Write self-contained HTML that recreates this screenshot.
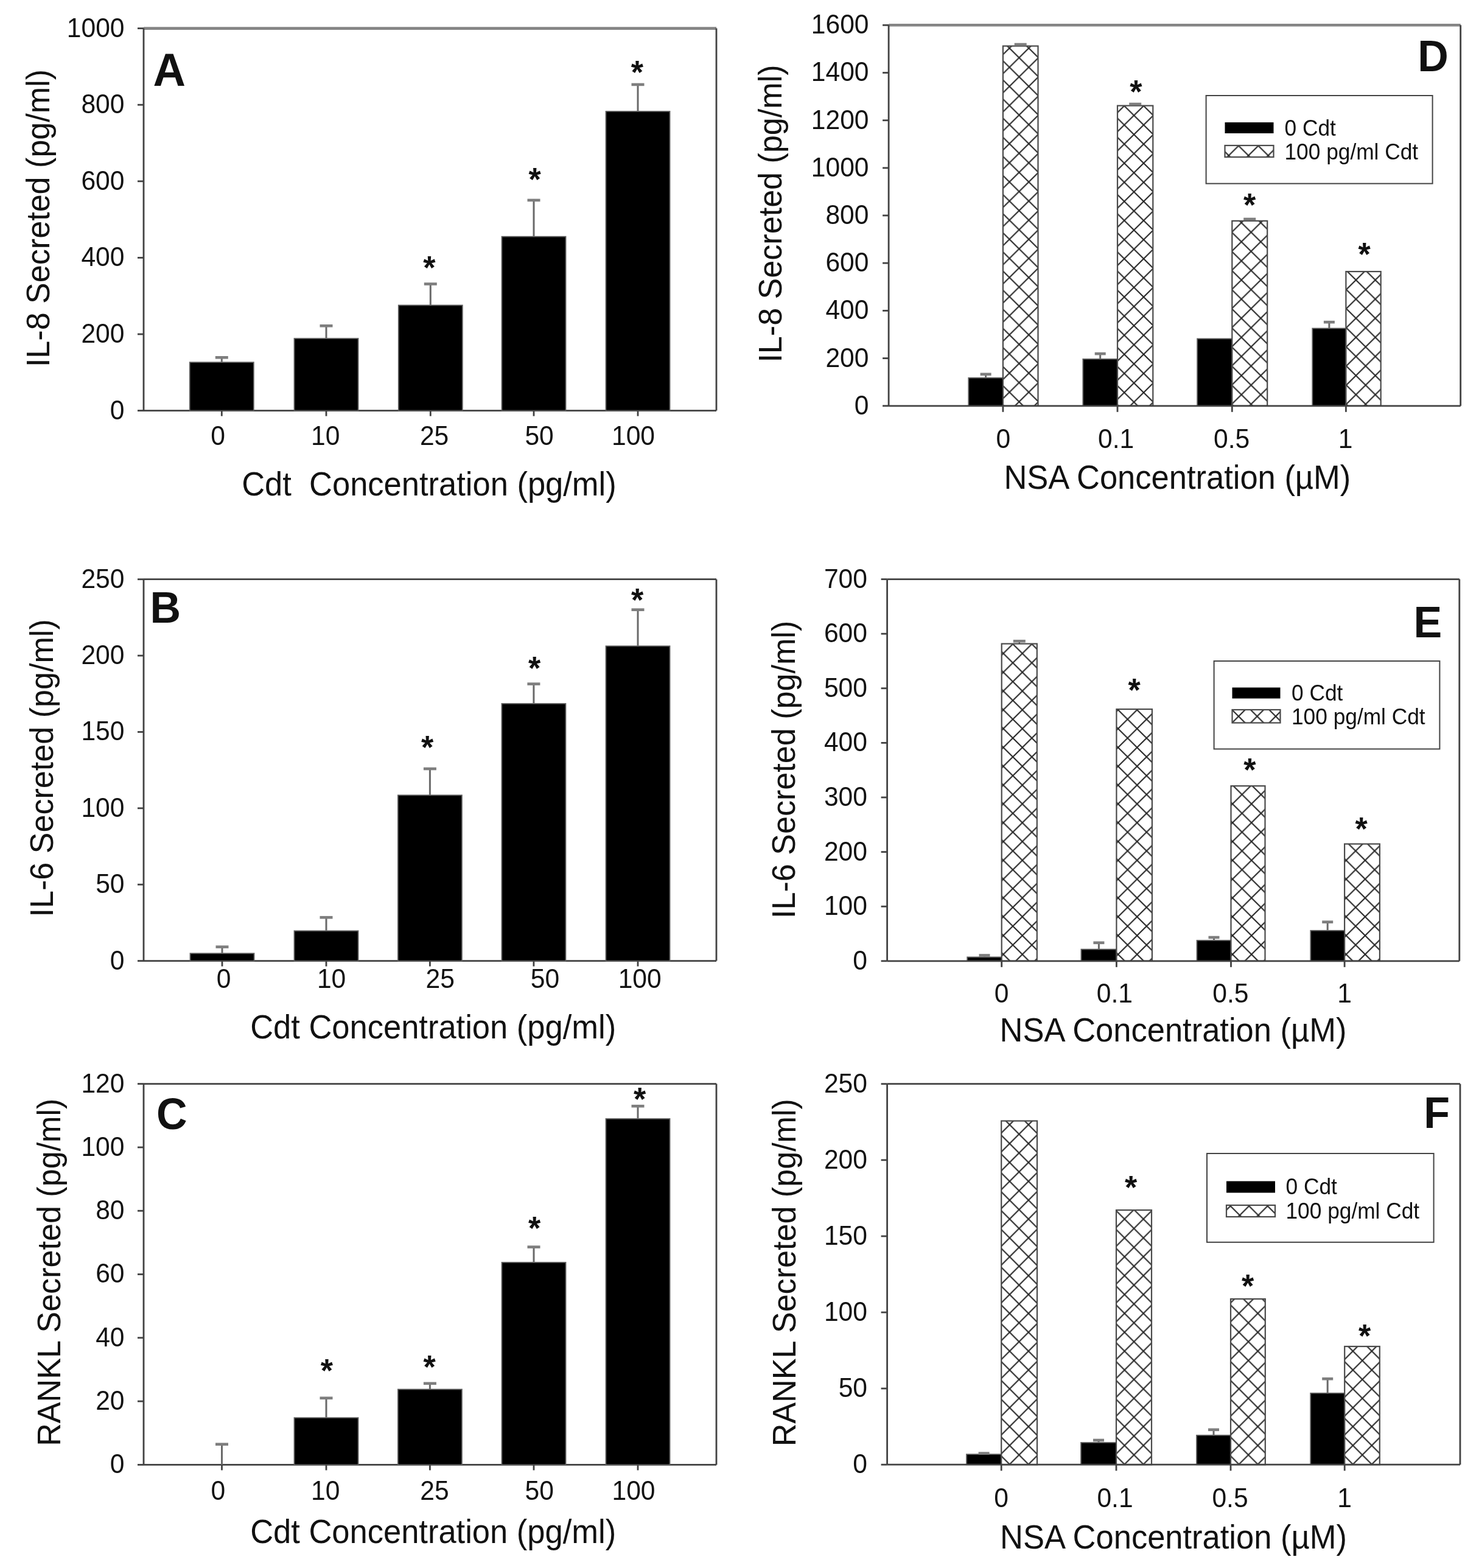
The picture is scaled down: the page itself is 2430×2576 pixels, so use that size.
<!DOCTYPE html>
<html><head><meta charset="utf-8"><title>Cdt / NSA cytokine secretion</title>
<style>html,body{margin:0;padding:0;background:#fff;}svg{display:block;}text{font-family:'Liberation Sans', Arial, Helvetica, sans-serif;}</style>
</head><body>
<svg width="2430" height="2576" viewBox="0 0 2430 2576" font-family="'Liberation Sans', Arial, Helvetica, sans-serif" fill="#111"><defs><pattern id="h1" patternUnits="userSpaceOnUse" x="1626.70" y="47.70" width="31.8" height="31.4"><path d="M-7.95,-7.85L39.75,39.25M39.75,-7.85L-7.95,39.25" stroke="#262626" stroke-width="2.1" fill="none"/></pattern><pattern id="h2" patternUnits="userSpaceOnUse" x="1815.40" y="142.50" width="31.8" height="31.4"><path d="M-7.95,-7.85L39.75,39.25M39.75,-7.85L-7.95,39.25" stroke="#262626" stroke-width="2.1" fill="none"/></pattern><pattern id="h3" patternUnits="userSpaceOnUse" x="2007.80" y="334.40" width="31.8" height="31.4"><path d="M-7.95,-7.85L39.75,39.25M39.75,-7.85L-7.95,39.25" stroke="#262626" stroke-width="2.1" fill="none"/></pattern><pattern id="h4" patternUnits="userSpaceOnUse" x="2196.00" y="428.60" width="31.8" height="31.4"><path d="M-7.95,-7.85L39.75,39.25M39.75,-7.85L-7.95,39.25" stroke="#262626" stroke-width="2.1" fill="none"/></pattern><pattern id="h5" patternUnits="userSpaceOnUse" x="1986.40" y="223.50" width="32.4" height="32"><path d="M-8.10,-8.00L40.50,40.00M40.50,-8.00L-8.10,40.00" stroke="#262626" stroke-width="2.1" fill="none"/></pattern><pattern id="h6" patternUnits="userSpaceOnUse" x="1617.30" y="1042.60" width="31.2" height="30.9"><path d="M-7.80,-7.72L39.00,38.62M39.00,-7.72L-7.80,38.62" stroke="#262626" stroke-width="2.1" fill="none"/></pattern><pattern id="h7" patternUnits="userSpaceOnUse" x="1805.80" y="1135.30" width="31.2" height="30.9"><path d="M-7.80,-7.72L39.00,38.62M39.00,-7.72L-7.80,38.62" stroke="#262626" stroke-width="2.1" fill="none"/></pattern><pattern id="h8" patternUnits="userSpaceOnUse" x="1993.80" y="1289.80" width="31.2" height="30.9"><path d="M-7.80,-7.72L39.00,38.62M39.00,-7.72L-7.80,38.62" stroke="#262626" stroke-width="2.1" fill="none"/></pattern><pattern id="h9" patternUnits="userSpaceOnUse" x="2180.50" y="1382.50" width="31.2" height="30.9"><path d="M-7.80,-7.72L39.00,38.62M39.00,-7.72L-7.80,38.62" stroke="#262626" stroke-width="2.1" fill="none"/></pattern><pattern id="h10" patternUnits="userSpaceOnUse" x="2004.50" y="1146.30" width="30.5" height="30.5"><path d="M-7.62,-7.62L38.12,38.12M38.12,-7.62L-7.62,38.12" stroke="#262626" stroke-width="2.1" fill="none"/></pattern><pattern id="h11" patternUnits="userSpaceOnUse" x="1627.80" y="1816.70" width="31.0" height="31.0"><path d="M-7.75,-7.75L38.75,38.75M38.75,-7.75L-7.75,38.75" stroke="#262626" stroke-width="2.1" fill="none"/></pattern><pattern id="h12" patternUnits="userSpaceOnUse" x="1816.60" y="1971.70" width="31.0" height="31.0"><path d="M-7.75,-7.75L38.75,38.75M38.75,-7.75L-7.75,38.75" stroke="#262626" stroke-width="2.1" fill="none"/></pattern><pattern id="h13" patternUnits="userSpaceOnUse" x="2004.60" y="2126.70" width="31.0" height="31.0"><path d="M-7.75,-7.75L38.75,38.75M38.75,-7.75L-7.75,38.75" stroke="#262626" stroke-width="2.1" fill="none"/></pattern><pattern id="h14" patternUnits="userSpaceOnUse" x="2191.80" y="2188.70" width="31.0" height="31.0"><path d="M-7.75,-7.75L38.75,38.75M38.75,-7.75L-7.75,38.75" stroke="#262626" stroke-width="2.1" fill="none"/></pattern><pattern id="h15" patternUnits="userSpaceOnUse" x="2006.40" y="1966.00" width="30.5" height="30.5"><path d="M-7.62,-7.62L38.12,38.12M38.12,-7.62L-7.62,38.12" stroke="#262626" stroke-width="2.1" fill="none"/></pattern></defs><rect width="2430" height="2576" fill="#fff"/><line x1="236.0" y1="46.6" x2="1177.0" y2="46.6" stroke="#858585" stroke-width="4.6"/>
<line x1="236.0" y1="674.6" x2="1177.0" y2="674.6" stroke="#424242" stroke-width="2.8"/>
<line x1="236.0" y1="46.6" x2="236.0" y2="674.6" stroke="#424242" stroke-width="2.8"/>
<line x1="1177.0" y1="46.6" x2="1177.0" y2="674.6" stroke="#424242" stroke-width="2.8"/>
<line x1="226.0" y1="674.6" x2="236.0" y2="674.6" stroke="#424242" stroke-width="2.8"/>
<text transform="translate(204.5,688.5) scale(1.0,1.06)" font-size="42.6" text-anchor="end">0</text>
<line x1="226.0" y1="549.0" x2="236.0" y2="549.0" stroke="#424242" stroke-width="2.8"/>
<text transform="translate(204.5,562.9) scale(1.0,1.06)" font-size="42.6" text-anchor="end">200</text>
<line x1="226.0" y1="423.4" x2="236.0" y2="423.4" stroke="#424242" stroke-width="2.8"/>
<text transform="translate(204.5,437.3) scale(1.0,1.06)" font-size="42.6" text-anchor="end">400</text>
<line x1="226.0" y1="297.8" x2="236.0" y2="297.8" stroke="#424242" stroke-width="2.8"/>
<text transform="translate(204.5,311.7) scale(1.0,1.06)" font-size="42.6" text-anchor="end">600</text>
<line x1="226.0" y1="172.2" x2="236.0" y2="172.2" stroke="#424242" stroke-width="2.8"/>
<text transform="translate(204.5,186.1) scale(1.0,1.06)" font-size="42.6" text-anchor="end">800</text>
<line x1="226.0" y1="46.6" x2="236.0" y2="46.6" stroke="#424242" stroke-width="2.8"/>
<text transform="translate(204.5,60.5) scale(1.0,1.06)" font-size="42.6" text-anchor="end">1000</text>
<rect x="311.8" y="595.2" width="105.0" height="79.4" fill="#000" stroke="#5e5e5e" stroke-width="1.8"/>
<line x1="364.3" y1="595.2" x2="364.3" y2="587.3" stroke="#6a6a6a" stroke-width="3.0"/>
<line x1="353.8" y1="587.3" x2="374.8" y2="587.3" stroke="#7e7e7e" stroke-width="4.6"/>
<line x1="364.3" y1="674.6" x2="364.3" y2="683.6" stroke="#424242" stroke-width="2.8"/>
<text transform="translate(358.0,730.5) scale(1.0,1.06)" font-size="42.6" text-anchor="middle">0</text>
<rect x="483.5" y="556.1" width="105.0" height="118.5" fill="#000" stroke="#5e5e5e" stroke-width="1.8"/>
<line x1="536.0" y1="556.1" x2="536.0" y2="535.3" stroke="#6a6a6a" stroke-width="3.0"/>
<line x1="525.5" y1="535.3" x2="546.5" y2="535.3" stroke="#7e7e7e" stroke-width="4.6"/>
<line x1="536.0" y1="674.6" x2="536.0" y2="683.6" stroke="#424242" stroke-width="2.8"/>
<text transform="translate(534.7,730.5) scale(1.0,1.06)" font-size="42.6" text-anchor="middle">10</text>
<rect x="654.8" y="501.5" width="105.0" height="173.1" fill="#000" stroke="#5e5e5e" stroke-width="1.8"/>
<line x1="707.3" y1="501.5" x2="707.3" y2="466.5" stroke="#6a6a6a" stroke-width="3.0"/>
<line x1="696.8" y1="466.5" x2="717.8" y2="466.5" stroke="#7e7e7e" stroke-width="4.6"/>
<line x1="707.3" y1="674.6" x2="707.3" y2="683.6" stroke="#424242" stroke-width="2.8"/>
<text transform="translate(713.6,730.5) scale(1.0,1.06)" font-size="42.6" text-anchor="middle">25</text>
<text transform="translate(705.3,457.6) scale(1.0,1.04)" font-size="52" text-anchor="middle" font-weight="bold">*</text>
<rect x="824.5" y="388.7" width="105.0" height="285.9" fill="#000" stroke="#5e5e5e" stroke-width="1.8"/>
<line x1="877.0" y1="388.7" x2="877.0" y2="328.9" stroke="#6a6a6a" stroke-width="3.0"/>
<line x1="866.5" y1="328.9" x2="887.5" y2="328.9" stroke="#7e7e7e" stroke-width="4.6"/>
<line x1="877.0" y1="674.6" x2="877.0" y2="683.6" stroke="#424242" stroke-width="2.8"/>
<text transform="translate(886.1,730.5) scale(1.0,1.06)" font-size="42.6" text-anchor="middle">50</text>
<text transform="translate(878.7,312.9) scale(1.0,1.04)" font-size="52" text-anchor="middle" font-weight="bold">*</text>
<rect x="995.5" y="183.0" width="105.0" height="491.6" fill="#000" stroke="#5e5e5e" stroke-width="1.8"/>
<line x1="1048.0" y1="183.0" x2="1048.0" y2="138.9" stroke="#6a6a6a" stroke-width="3.0"/>
<line x1="1037.5" y1="138.9" x2="1058.5" y2="138.9" stroke="#7e7e7e" stroke-width="4.6"/>
<line x1="1048.0" y1="674.6" x2="1048.0" y2="683.6" stroke="#424242" stroke-width="2.8"/>
<text transform="translate(1040.5,730.5) scale(1.0,1.06)" font-size="42.6" text-anchor="middle">100</text>
<text transform="translate(1046.8,137.3) scale(1.0,1.04)" font-size="52" text-anchor="middle" font-weight="bold">*</text>
<text transform="translate(397.2,814.0) scale(1.0,1.04)" font-size="52.5" text-anchor="start" xml:space="preserve">Cdt  Concentration (pg/ml)</text>
<text transform="translate(81.0,358.5) rotate(-90) scale(1,1.04)" x="0" y="0" font-size="52.1" text-anchor="middle">IL-8 Secreted (pg/ml)</text>
<text transform="translate(251.6,141.3) scale(1.0,1.02)" font-size="74" text-anchor="start" font-weight="bold">A</text>
<line x1="236.0" y1="951.7" x2="1177.0" y2="951.7" stroke="#424242" stroke-width="2.8"/>
<line x1="236.0" y1="1578.6" x2="1177.0" y2="1578.6" stroke="#424242" stroke-width="2.8"/>
<line x1="236.0" y1="951.7" x2="236.0" y2="1578.6" stroke="#424242" stroke-width="2.8"/>
<line x1="1177.0" y1="951.7" x2="1177.0" y2="1578.6" stroke="#424242" stroke-width="2.8"/>
<line x1="226.0" y1="1578.6" x2="236.0" y2="1578.6" stroke="#424242" stroke-width="2.8"/>
<text transform="translate(204.5,1592.5) scale(1.0,1.06)" font-size="42.6" text-anchor="end">0</text>
<line x1="226.0" y1="1453.2" x2="236.0" y2="1453.2" stroke="#424242" stroke-width="2.8"/>
<text transform="translate(204.5,1467.1) scale(1.0,1.06)" font-size="42.6" text-anchor="end">50</text>
<line x1="226.0" y1="1327.8" x2="236.0" y2="1327.8" stroke="#424242" stroke-width="2.8"/>
<text transform="translate(204.5,1341.7) scale(1.0,1.06)" font-size="42.6" text-anchor="end">100</text>
<line x1="226.0" y1="1202.5" x2="236.0" y2="1202.5" stroke="#424242" stroke-width="2.8"/>
<text transform="translate(204.5,1216.4) scale(1.0,1.06)" font-size="42.6" text-anchor="end">150</text>
<line x1="226.0" y1="1077.1" x2="236.0" y2="1077.1" stroke="#424242" stroke-width="2.8"/>
<text transform="translate(204.5,1091.0) scale(1.0,1.06)" font-size="42.6" text-anchor="end">200</text>
<line x1="226.0" y1="951.7" x2="236.0" y2="951.7" stroke="#424242" stroke-width="2.8"/>
<text transform="translate(204.5,965.6) scale(1.0,1.06)" font-size="42.6" text-anchor="end">250</text>
<rect x="312.5" y="1566.3" width="105.0" height="12.3" fill="#000" stroke="#5e5e5e" stroke-width="1.8"/>
<line x1="365.0" y1="1566.3" x2="365.0" y2="1555.6" stroke="#6a6a6a" stroke-width="3.0"/>
<line x1="354.5" y1="1555.6" x2="375.5" y2="1555.6" stroke="#7e7e7e" stroke-width="4.6"/>
<line x1="365.0" y1="1578.6" x2="365.0" y2="1587.6" stroke="#424242" stroke-width="2.8"/>
<text transform="translate(367.7,1622.7) scale(1.0,1.06)" font-size="42.6" text-anchor="middle">0</text>
<rect x="483.5" y="1529.3" width="105.0" height="49.3" fill="#000" stroke="#5e5e5e" stroke-width="1.8"/>
<line x1="536.0" y1="1529.3" x2="536.0" y2="1507.2" stroke="#6a6a6a" stroke-width="3.0"/>
<line x1="525.5" y1="1507.2" x2="546.5" y2="1507.2" stroke="#7e7e7e" stroke-width="4.6"/>
<line x1="536.0" y1="1578.6" x2="536.0" y2="1587.6" stroke="#424242" stroke-width="2.8"/>
<text transform="translate(544.6,1622.7) scale(1.0,1.06)" font-size="42.6" text-anchor="middle">10</text>
<rect x="653.9" y="1306.4" width="105.0" height="272.2" fill="#000" stroke="#5e5e5e" stroke-width="1.8"/>
<line x1="706.4" y1="1306.4" x2="706.4" y2="1263.0" stroke="#6a6a6a" stroke-width="3.0"/>
<line x1="695.9" y1="1263.0" x2="716.9" y2="1263.0" stroke="#7e7e7e" stroke-width="4.6"/>
<line x1="706.4" y1="1578.6" x2="706.4" y2="1587.6" stroke="#424242" stroke-width="2.8"/>
<text transform="translate(723.3,1622.7) scale(1.0,1.06)" font-size="42.6" text-anchor="middle">25</text>
<text transform="translate(702.0,1245.6) scale(1.0,1.04)" font-size="52" text-anchor="middle" font-weight="bold">*</text>
<rect x="824.4" y="1156.0" width="105.0" height="422.6" fill="#000" stroke="#5e5e5e" stroke-width="1.8"/>
<line x1="876.9" y1="1156.0" x2="876.9" y2="1123.6" stroke="#6a6a6a" stroke-width="3.0"/>
<line x1="866.4" y1="1123.6" x2="887.4" y2="1123.6" stroke="#7e7e7e" stroke-width="4.6"/>
<line x1="876.9" y1="1578.6" x2="876.9" y2="1587.6" stroke="#424242" stroke-width="2.8"/>
<text transform="translate(895.5,1622.7) scale(1.0,1.06)" font-size="42.6" text-anchor="middle">50</text>
<text transform="translate(878.0,1115.6) scale(1.0,1.04)" font-size="52" text-anchor="middle" font-weight="bold">*</text>
<rect x="995.5" y="1061.4" width="105.0" height="517.2" fill="#000" stroke="#5e5e5e" stroke-width="1.8"/>
<line x1="1048.0" y1="1061.4" x2="1048.0" y2="1001.7" stroke="#6a6a6a" stroke-width="3.0"/>
<line x1="1037.5" y1="1001.7" x2="1058.5" y2="1001.7" stroke="#7e7e7e" stroke-width="4.6"/>
<line x1="1048.0" y1="1578.6" x2="1048.0" y2="1587.6" stroke="#424242" stroke-width="2.8"/>
<text transform="translate(1051.2,1622.7) scale(1.0,1.06)" font-size="42.6" text-anchor="middle">100</text>
<text transform="translate(1047.2,1003.6) scale(1.0,1.04)" font-size="52" text-anchor="middle" font-weight="bold">*</text>
<text transform="translate(411.2,1706.0) scale(1.0,1.04)" font-size="52.5" text-anchor="start" xml:space="preserve">Cdt Concentration (pg/ml)</text>
<text transform="translate(87.3,1261.9) rotate(-90) scale(1,1.04)" x="0" y="0" font-size="52.1" text-anchor="middle">IL-6 Secreted (pg/ml)</text>
<text transform="translate(246.5,1022.9) scale(1.0,1.03)" font-size="70" text-anchor="start" font-weight="bold">B</text>
<line x1="236.0" y1="1780.6" x2="1177.0" y2="1780.6" stroke="#424242" stroke-width="2.8"/>
<line x1="236.0" y1="2406.4" x2="1177.0" y2="2406.4" stroke="#424242" stroke-width="2.8"/>
<line x1="236.0" y1="1780.6" x2="236.0" y2="2406.4" stroke="#424242" stroke-width="2.8"/>
<line x1="1177.0" y1="1780.6" x2="1177.0" y2="2406.4" stroke="#424242" stroke-width="2.8"/>
<line x1="226.0" y1="2406.4" x2="236.0" y2="2406.4" stroke="#424242" stroke-width="2.8"/>
<text transform="translate(204.5,2420.3) scale(1.0,1.06)" font-size="42.6" text-anchor="end">0</text>
<line x1="226.0" y1="2302.1" x2="236.0" y2="2302.1" stroke="#424242" stroke-width="2.8"/>
<text transform="translate(204.5,2316.0) scale(1.0,1.06)" font-size="42.6" text-anchor="end">20</text>
<line x1="226.0" y1="2197.8" x2="236.0" y2="2197.8" stroke="#424242" stroke-width="2.8"/>
<text transform="translate(204.5,2211.7) scale(1.0,1.06)" font-size="42.6" text-anchor="end">40</text>
<line x1="226.0" y1="2093.5" x2="236.0" y2="2093.5" stroke="#424242" stroke-width="2.8"/>
<text transform="translate(204.5,2107.4) scale(1.0,1.06)" font-size="42.6" text-anchor="end">60</text>
<line x1="226.0" y1="1989.2" x2="236.0" y2="1989.2" stroke="#424242" stroke-width="2.8"/>
<text transform="translate(204.5,2003.1) scale(1.0,1.06)" font-size="42.6" text-anchor="end">80</text>
<line x1="226.0" y1="1884.9" x2="236.0" y2="1884.9" stroke="#424242" stroke-width="2.8"/>
<text transform="translate(204.5,1898.8) scale(1.0,1.06)" font-size="42.6" text-anchor="end">100</text>
<line x1="226.0" y1="1780.6" x2="236.0" y2="1780.6" stroke="#424242" stroke-width="2.8"/>
<text transform="translate(204.5,1794.5) scale(1.0,1.06)" font-size="42.6" text-anchor="end">120</text>
<line x1="364.5" y1="2406.4" x2="364.5" y2="2372.7" stroke="#6a6a6a" stroke-width="3.0"/>
<line x1="354.0" y1="2372.7" x2="375.0" y2="2372.7" stroke="#7e7e7e" stroke-width="4.6"/>
<line x1="364.5" y1="2406.4" x2="364.5" y2="2415.4" stroke="#424242" stroke-width="2.8"/>
<text transform="translate(358.4,2463.5) scale(1.0,1.06)" font-size="42.6" text-anchor="middle">0</text>
<rect x="483.5" y="2329.2" width="105.0" height="77.2" fill="#000" stroke="#5e5e5e" stroke-width="1.8"/>
<line x1="536.0" y1="2329.2" x2="536.0" y2="2296.8" stroke="#6a6a6a" stroke-width="3.0"/>
<line x1="525.5" y1="2296.8" x2="546.5" y2="2296.8" stroke="#7e7e7e" stroke-width="4.6"/>
<line x1="536.0" y1="2406.4" x2="536.0" y2="2415.4" stroke="#424242" stroke-width="2.8"/>
<text transform="translate(534.7,2463.5) scale(1.0,1.06)" font-size="42.6" text-anchor="middle">10</text>
<text transform="translate(536.8,2270.0) scale(1.0,1.04)" font-size="52" text-anchor="middle" font-weight="bold">*</text>
<rect x="653.9" y="2282.5" width="105.0" height="123.9" fill="#000" stroke="#5e5e5e" stroke-width="1.8"/>
<line x1="706.4" y1="2282.5" x2="706.4" y2="2272.8" stroke="#6a6a6a" stroke-width="3.0"/>
<line x1="695.9" y1="2272.8" x2="716.9" y2="2272.8" stroke="#7e7e7e" stroke-width="4.6"/>
<line x1="706.4" y1="2406.4" x2="706.4" y2="2415.4" stroke="#424242" stroke-width="2.8"/>
<text transform="translate(714.0,2463.5) scale(1.0,1.06)" font-size="42.6" text-anchor="middle">25</text>
<text transform="translate(705.6,2263.6) scale(1.0,1.04)" font-size="52" text-anchor="middle" font-weight="bold">*</text>
<rect x="824.5" y="2074.0" width="105.0" height="332.4" fill="#000" stroke="#5e5e5e" stroke-width="1.8"/>
<line x1="877.0" y1="2074.0" x2="877.0" y2="2048.6" stroke="#6a6a6a" stroke-width="3.0"/>
<line x1="866.5" y1="2048.6" x2="887.5" y2="2048.6" stroke="#7e7e7e" stroke-width="4.6"/>
<line x1="877.0" y1="2406.4" x2="877.0" y2="2415.4" stroke="#424242" stroke-width="2.8"/>
<text transform="translate(886.2,2463.5) scale(1.0,1.06)" font-size="42.6" text-anchor="middle">50</text>
<text transform="translate(878.0,2035.6) scale(1.0,1.04)" font-size="52" text-anchor="middle" font-weight="bold">*</text>
<rect x="995.5" y="1838.0" width="105.0" height="568.4" fill="#000" stroke="#5e5e5e" stroke-width="1.8"/>
<line x1="1048.0" y1="1838.0" x2="1048.0" y2="1817.2" stroke="#6a6a6a" stroke-width="3.0"/>
<line x1="1037.5" y1="1817.2" x2="1058.5" y2="1817.2" stroke="#7e7e7e" stroke-width="4.6"/>
<line x1="1048.0" y1="2406.4" x2="1048.0" y2="2415.4" stroke="#424242" stroke-width="2.8"/>
<text transform="translate(1041.0,2463.5) scale(1.0,1.06)" font-size="42.6" text-anchor="middle">100</text>
<text transform="translate(1051.0,1823.6) scale(1.0,1.04)" font-size="52" text-anchor="middle" font-weight="bold">*</text>
<text transform="translate(411.2,2535.0) scale(1.0,1.04)" font-size="52.5" text-anchor="start" xml:space="preserve">Cdt Concentration (pg/ml)</text>
<text transform="translate(98.5,2090.2) rotate(-90) scale(1,1.04)" x="0" y="0" font-size="52.1" text-anchor="middle">RANKL Secreted (pg/ml)</text>
<text transform="translate(257.1,1855.3) scale(1.0,1.03)" font-size="70" text-anchor="start" font-weight="bold">C</text>
<rect x="1591.3" y="620.8" width="56.6" height="46.0" fill="#000" stroke="#5e5e5e" stroke-width="1.8"/>
<line x1="1619.6" y1="620.8" x2="1619.6" y2="614.8" stroke="#6a6a6a" stroke-width="3.0"/>
<line x1="1610.6" y1="614.8" x2="1628.6" y2="614.8" stroke="#7e7e7e" stroke-width="4.6"/>
<rect x="1647.9" y="75.6" width="57.6" height="591.2" fill="#fff"/>
<rect x="1647.9" y="75.6" width="57.6" height="591.2" fill="url(#h1)" stroke="#4a4a4a" stroke-width="2.2"/>
<line x1="1676.7" y1="75.6" x2="1676.7" y2="73.0" stroke="#444" stroke-width="2"/>
<line x1="1666.7" y1="73.0" x2="1686.7" y2="73.0" stroke="#7e7e7e" stroke-width="4.6"/>
<rect x="1779.3" y="589.9" width="56.7" height="76.9" fill="#000" stroke="#5e5e5e" stroke-width="1.8"/>
<line x1="1807.7" y1="589.9" x2="1807.7" y2="581.1" stroke="#6a6a6a" stroke-width="3.0"/>
<line x1="1798.7" y1="581.1" x2="1816.7" y2="581.1" stroke="#7e7e7e" stroke-width="4.6"/>
<rect x="1836.0" y="173.6" width="58.3" height="493.2" fill="#fff"/>
<rect x="1836.0" y="173.6" width="58.3" height="493.2" fill="url(#h2)" stroke="#4a4a4a" stroke-width="2.2"/>
<line x1="1865.2" y1="173.6" x2="1865.2" y2="171.0" stroke="#444" stroke-width="2"/>
<line x1="1855.2" y1="171.0" x2="1875.2" y2="171.0" stroke="#7e7e7e" stroke-width="4.6"/>
<text transform="translate(1866.4,169.4) scale(1.0,1.04)" font-size="52" text-anchor="middle" font-weight="bold">*</text>
<rect x="1967.1" y="556.5" width="57.2" height="110.3" fill="#000" stroke="#5e5e5e" stroke-width="1.8"/>
<rect x="2024.3" y="362.9" width="57.9" height="303.9" fill="#fff"/>
<rect x="2024.3" y="362.9" width="57.9" height="303.9" fill="url(#h3)" stroke="#4a4a4a" stroke-width="2.2"/>
<line x1="2053.2" y1="362.9" x2="2053.2" y2="360.0" stroke="#444" stroke-width="2"/>
<line x1="2043.2" y1="360.0" x2="2063.2" y2="360.0" stroke="#7e7e7e" stroke-width="4.6"/>
<text transform="translate(2053.2,354.8) scale(1.0,1.04)" font-size="52" text-anchor="middle" font-weight="bold">*</text>
<rect x="2156.3" y="539.5" width="55.1" height="127.3" fill="#000" stroke="#5e5e5e" stroke-width="1.8"/>
<line x1="2183.9" y1="539.5" x2="2183.9" y2="529.2" stroke="#6a6a6a" stroke-width="3.0"/>
<line x1="2174.9" y1="529.2" x2="2192.9" y2="529.2" stroke="#7e7e7e" stroke-width="4.6"/>
<rect x="2211.4" y="446.1" width="57.3" height="220.7" fill="#fff"/>
<rect x="2211.4" y="446.1" width="57.3" height="220.7" fill="url(#h4)" stroke="#4a4a4a" stroke-width="2.2"/>
<text transform="translate(2241.6,436.0) scale(1.0,1.04)" font-size="52" text-anchor="middle" font-weight="bold">*</text>
<line x1="1460.1" y1="41.3" x2="2399.7" y2="41.3" stroke="#858585" stroke-width="4.6"/>
<line x1="1460.1" y1="666.8" x2="2399.7" y2="666.8" stroke="#424242" stroke-width="2.8"/>
<line x1="1460.1" y1="41.3" x2="1460.1" y2="666.8" stroke="#424242" stroke-width="2.8"/>
<line x1="2399.7" y1="41.3" x2="2399.7" y2="666.8" stroke="#424242" stroke-width="2.8"/>
<line x1="1450.1" y1="666.8" x2="1460.1" y2="666.8" stroke="#424242" stroke-width="2.8"/>
<text transform="translate(1427.5,680.7) scale(1.0,1.06)" font-size="42.6" text-anchor="end">0</text>
<line x1="1450.1" y1="588.6" x2="1460.1" y2="588.6" stroke="#424242" stroke-width="2.8"/>
<text transform="translate(1427.5,602.5) scale(1.0,1.06)" font-size="42.6" text-anchor="end">200</text>
<line x1="1450.1" y1="510.4" x2="1460.1" y2="510.4" stroke="#424242" stroke-width="2.8"/>
<text transform="translate(1427.5,524.3) scale(1.0,1.06)" font-size="42.6" text-anchor="end">400</text>
<line x1="1450.1" y1="432.2" x2="1460.1" y2="432.2" stroke="#424242" stroke-width="2.8"/>
<text transform="translate(1427.5,446.1) scale(1.0,1.06)" font-size="42.6" text-anchor="end">600</text>
<line x1="1450.1" y1="354.0" x2="1460.1" y2="354.0" stroke="#424242" stroke-width="2.8"/>
<text transform="translate(1427.5,368.0) scale(1.0,1.06)" font-size="42.6" text-anchor="end">800</text>
<line x1="1450.1" y1="275.9" x2="1460.1" y2="275.9" stroke="#424242" stroke-width="2.8"/>
<text transform="translate(1427.5,289.8) scale(1.0,1.06)" font-size="42.6" text-anchor="end">1000</text>
<line x1="1450.1" y1="197.7" x2="1460.1" y2="197.7" stroke="#424242" stroke-width="2.8"/>
<text transform="translate(1427.5,211.6) scale(1.0,1.06)" font-size="42.6" text-anchor="end">1200</text>
<line x1="1450.1" y1="119.5" x2="1460.1" y2="119.5" stroke="#424242" stroke-width="2.8"/>
<text transform="translate(1427.5,133.4) scale(1.0,1.06)" font-size="42.6" text-anchor="end">1400</text>
<line x1="1450.1" y1="41.3" x2="1460.1" y2="41.3" stroke="#424242" stroke-width="2.8"/>
<text transform="translate(1427.5,55.2) scale(1.0,1.06)" font-size="42.6" text-anchor="end">1600</text>
<line x1="1647.9" y1="666.8" x2="1647.9" y2="676.8" stroke="#424242" stroke-width="2.8"/>
<text transform="translate(1648.4,735.5) scale(1.0,1.06)" font-size="42.6" text-anchor="middle">0</text>
<line x1="1836.0" y1="666.8" x2="1836.0" y2="676.8" stroke="#424242" stroke-width="2.8"/>
<text transform="translate(1833.6,735.5) scale(1.0,1.06)" font-size="42.6" text-anchor="middle">0.1</text>
<line x1="2024.3" y1="666.8" x2="2024.3" y2="676.8" stroke="#424242" stroke-width="2.8"/>
<text transform="translate(2023.6,735.5) scale(1.0,1.06)" font-size="42.6" text-anchor="middle">0.5</text>
<line x1="2211.4" y1="666.8" x2="2211.4" y2="676.8" stroke="#424242" stroke-width="2.8"/>
<text transform="translate(2210.5,735.5) scale(1.0,1.06)" font-size="42.6" text-anchor="middle">1</text>
<text transform="translate(1649.4,803.3) scale(1.0,1.04)" font-size="52.5" text-anchor="start">NSA Concentration (µM)</text>
<text transform="translate(1284.3,351.0) rotate(-90) scale(1,1.04)" x="0" y="0" font-size="52.1" text-anchor="middle">IL-8 Secreted (pg/ml)</text>
<text transform="translate(2329.3,116.5) scale(1.0,1.03)" font-size="70" text-anchor="start" font-weight="bold">D</text>
<rect x="1981.6" y="157" width="372.0" height="144.60000000000002" fill="#fff" stroke="#444" stroke-width="2"/>
<rect x="2012.5" y="201" width="80.0" height="18" fill="#000"/>
<rect x="2012.5" y="239.0" width="80.0" height="19.0" fill="#fff"/>
<rect x="2012.5" y="239.0" width="80.0" height="19.0" fill="url(#h5)" stroke="#4a4a4a" stroke-width="2.2"/>
<text transform="translate(2110.5,223.0) scale(1.0,1.06)" font-size="35.3" text-anchor="start">0 Cdt</text>
<text transform="translate(2110.5,261.5) scale(1.0,1.06)" font-size="35.3" text-anchor="start">100 pg/ml Cdt</text>
<rect x="1589.2" y="1572.4" width="56.5" height="6.4" fill="#000" stroke="#5e5e5e" stroke-width="1.8"/>
<line x1="1617.5" y1="1572.4" x2="1617.5" y2="1569.5" stroke="#6a6a6a" stroke-width="3.0"/>
<line x1="1608.5" y1="1569.5" x2="1626.5" y2="1569.5" stroke="#7e7e7e" stroke-width="4.6"/>
<rect x="1645.7" y="1057.6" width="58.1" height="521.2" fill="#fff"/>
<rect x="1645.7" y="1057.6" width="58.1" height="521.2" fill="url(#h6)" stroke="#4a4a4a" stroke-width="2.2"/>
<line x1="1674.8" y1="1057.6" x2="1674.8" y2="1053.3" stroke="#444" stroke-width="2"/>
<line x1="1664.8" y1="1053.3" x2="1684.8" y2="1053.3" stroke="#7e7e7e" stroke-width="4.6"/>
<rect x="1776.4" y="1559.6" width="58.0" height="19.2" fill="#000" stroke="#5e5e5e" stroke-width="1.8"/>
<line x1="1805.4" y1="1559.6" x2="1805.4" y2="1548.8" stroke="#6a6a6a" stroke-width="3.0"/>
<line x1="1796.4" y1="1548.8" x2="1814.4" y2="1548.8" stroke="#7e7e7e" stroke-width="4.6"/>
<rect x="1834.4" y="1165.1" width="58.5" height="413.7" fill="#fff"/>
<rect x="1834.4" y="1165.1" width="58.5" height="413.7" fill="url(#h7)" stroke="#4a4a4a" stroke-width="2.2"/>
<text transform="translate(1863.6,1151.6) scale(1.0,1.04)" font-size="52" text-anchor="middle" font-weight="bold">*</text>
<rect x="1966.5" y="1545.0" width="56.0" height="33.8" fill="#000" stroke="#5e5e5e" stroke-width="1.8"/>
<line x1="1994.5" y1="1545.0" x2="1994.5" y2="1540.0" stroke="#6a6a6a" stroke-width="3.0"/>
<line x1="1985.5" y1="1540.0" x2="2003.5" y2="1540.0" stroke="#7e7e7e" stroke-width="4.6"/>
<rect x="2022.5" y="1291.2" width="56.0" height="287.6" fill="#fff"/>
<rect x="2022.5" y="1291.2" width="56.0" height="287.6" fill="url(#h8)" stroke="#4a4a4a" stroke-width="2.2"/>
<text transform="translate(2053.3,1283.3) scale(1.0,1.04)" font-size="52" text-anchor="middle" font-weight="bold">*</text>
<rect x="2153.3" y="1528.8" width="55.8" height="50.0" fill="#000" stroke="#5e5e5e" stroke-width="1.8"/>
<line x1="2181.2" y1="1528.8" x2="2181.2" y2="1514.7" stroke="#6a6a6a" stroke-width="3.0"/>
<line x1="2172.2" y1="1514.7" x2="2190.2" y2="1514.7" stroke="#7e7e7e" stroke-width="4.6"/>
<rect x="2209.1" y="1386.5" width="57.8" height="192.3" fill="#fff"/>
<rect x="2209.1" y="1386.5" width="57.8" height="192.3" fill="url(#h9)" stroke="#4a4a4a" stroke-width="2.2"/>
<text transform="translate(2236.5,1380.4) scale(1.0,1.04)" font-size="52" text-anchor="middle" font-weight="bold">*</text>
<line x1="1457.6" y1="951.6" x2="2397.8" y2="951.6" stroke="#424242" stroke-width="2.8"/>
<line x1="1457.6" y1="1578.8" x2="2397.8" y2="1578.8" stroke="#424242" stroke-width="2.8"/>
<line x1="1457.6" y1="951.6" x2="1457.6" y2="1578.8" stroke="#424242" stroke-width="2.8"/>
<line x1="2397.8" y1="951.6" x2="2397.8" y2="1578.8" stroke="#424242" stroke-width="2.8"/>
<line x1="1447.6" y1="1578.8" x2="1457.6" y2="1578.8" stroke="#424242" stroke-width="2.8"/>
<text transform="translate(1425.0,1592.7) scale(1.0,1.06)" font-size="42.6" text-anchor="end">0</text>
<line x1="1447.6" y1="1489.2" x2="1457.6" y2="1489.2" stroke="#424242" stroke-width="2.8"/>
<text transform="translate(1425.0,1503.1) scale(1.0,1.06)" font-size="42.6" text-anchor="end">100</text>
<line x1="1447.6" y1="1399.6" x2="1457.6" y2="1399.6" stroke="#424242" stroke-width="2.8"/>
<text transform="translate(1425.0,1413.5) scale(1.0,1.06)" font-size="42.6" text-anchor="end">200</text>
<line x1="1447.6" y1="1310.0" x2="1457.6" y2="1310.0" stroke="#424242" stroke-width="2.8"/>
<text transform="translate(1425.0,1323.9) scale(1.0,1.06)" font-size="42.6" text-anchor="end">300</text>
<line x1="1447.6" y1="1220.4" x2="1457.6" y2="1220.4" stroke="#424242" stroke-width="2.8"/>
<text transform="translate(1425.0,1234.3) scale(1.0,1.06)" font-size="42.6" text-anchor="end">400</text>
<line x1="1447.6" y1="1130.8" x2="1457.6" y2="1130.8" stroke="#424242" stroke-width="2.8"/>
<text transform="translate(1425.0,1144.7) scale(1.0,1.06)" font-size="42.6" text-anchor="end">500</text>
<line x1="1447.6" y1="1041.2" x2="1457.6" y2="1041.2" stroke="#424242" stroke-width="2.8"/>
<text transform="translate(1425.0,1055.1) scale(1.0,1.06)" font-size="42.6" text-anchor="end">600</text>
<line x1="1447.6" y1="951.6" x2="1457.6" y2="951.6" stroke="#424242" stroke-width="2.8"/>
<text transform="translate(1425.0,965.5) scale(1.0,1.06)" font-size="42.6" text-anchor="end">700</text>
<line x1="1645.7" y1="1578.8" x2="1645.7" y2="1588.8" stroke="#424242" stroke-width="2.8"/>
<text transform="translate(1645.7,1647.0) scale(1.0,1.06)" font-size="42.6" text-anchor="middle">0</text>
<line x1="1834.4" y1="1578.8" x2="1834.4" y2="1588.8" stroke="#424242" stroke-width="2.8"/>
<text transform="translate(1831.4,1647.0) scale(1.0,1.06)" font-size="42.6" text-anchor="middle">0.1</text>
<line x1="2022.5" y1="1578.8" x2="2022.5" y2="1588.8" stroke="#424242" stroke-width="2.8"/>
<text transform="translate(2021.8,1647.0) scale(1.0,1.06)" font-size="42.6" text-anchor="middle">0.5</text>
<line x1="2209.1" y1="1578.8" x2="2209.1" y2="1588.8" stroke="#424242" stroke-width="2.8"/>
<text transform="translate(2209.0,1647.0) scale(1.0,1.06)" font-size="42.6" text-anchor="middle">1</text>
<text transform="translate(1642.6,1711.3) scale(1.0,1.04)" font-size="52.5" text-anchor="start">NSA Concentration (µM)</text>
<text transform="translate(1306.1,1264.4) rotate(-90) scale(1,1.04)" x="0" y="0" font-size="52.1" text-anchor="middle">IL-6 Secreted (pg/ml)</text>
<text transform="translate(2322.4,1047.4) scale(1.0,1.03)" font-size="70" text-anchor="start" font-weight="bold">E</text>
<rect x="1994.6" y="1086" width="370.8000000000002" height="144.5" fill="#fff" stroke="#444" stroke-width="2"/>
<rect x="2024.5" y="1129.5" width="79.0" height="18.0" fill="#000"/>
<rect x="2024.5" y="1166.0" width="79.0" height="21.5" fill="#fff"/>
<rect x="2024.5" y="1166.0" width="79.0" height="21.5" fill="url(#h10)" stroke="#4a4a4a" stroke-width="2.2"/>
<text transform="translate(2122.0,1151.0) scale(1.0,1.06)" font-size="35.3" text-anchor="start">0 Cdt</text>
<text transform="translate(2122.0,1190.0) scale(1.0,1.06)" font-size="35.3" text-anchor="start">100 pg/ml Cdt</text>
<rect x="1588.0" y="2389.2" width="57.2" height="17.0" fill="#000" stroke="#5e5e5e" stroke-width="1.8"/>
<line x1="1616.6" y1="2389.2" x2="1616.6" y2="2387.6" stroke="#6a6a6a" stroke-width="3.0"/>
<line x1="1607.6" y1="2387.6" x2="1625.6" y2="2387.6" stroke="#7e7e7e" stroke-width="4.6"/>
<rect x="1645.2" y="1841.5" width="58.8" height="564.7" fill="#fff"/>
<rect x="1645.2" y="1841.5" width="58.8" height="564.7" fill="url(#h11)" stroke="#4a4a4a" stroke-width="2.2"/>
<rect x="1776.0" y="2370.0" width="58.0" height="36.2" fill="#000" stroke="#5e5e5e" stroke-width="1.8"/>
<line x1="1805.0" y1="2370.0" x2="1805.0" y2="2366.0" stroke="#6a6a6a" stroke-width="3.0"/>
<line x1="1796.0" y1="2366.0" x2="1814.0" y2="2366.0" stroke="#7e7e7e" stroke-width="4.6"/>
<rect x="1834.0" y="1988.0" width="58.0" height="418.2" fill="#fff"/>
<rect x="1834.0" y="1988.0" width="58.0" height="418.2" fill="url(#h12)" stroke="#4a4a4a" stroke-width="2.2"/>
<text transform="translate(1858.0,1968.6) scale(1.0,1.04)" font-size="52" text-anchor="middle" font-weight="bold">*</text>
<rect x="1966.0" y="2358.0" width="56.0" height="48.2" fill="#000" stroke="#5e5e5e" stroke-width="1.8"/>
<line x1="1994.0" y1="2358.0" x2="1994.0" y2="2348.8" stroke="#6a6a6a" stroke-width="3.0"/>
<line x1="1985.0" y1="2348.8" x2="2003.0" y2="2348.8" stroke="#7e7e7e" stroke-width="4.6"/>
<rect x="2022.0" y="2134.0" width="56.8" height="272.2" fill="#fff"/>
<rect x="2022.0" y="2134.0" width="56.8" height="272.2" fill="url(#h13)" stroke="#4a4a4a" stroke-width="2.2"/>
<text transform="translate(2050.0,2130.6) scale(1.0,1.04)" font-size="52" text-anchor="middle" font-weight="bold">*</text>
<rect x="2153.2" y="2288.8" width="56.0" height="117.4" fill="#000" stroke="#5e5e5e" stroke-width="1.8"/>
<line x1="2181.2" y1="2288.8" x2="2181.2" y2="2265.2" stroke="#6a6a6a" stroke-width="3.0"/>
<line x1="2172.2" y1="2265.2" x2="2190.2" y2="2265.2" stroke="#7e7e7e" stroke-width="4.6"/>
<rect x="2209.2" y="2212.0" width="57.6" height="194.2" fill="#fff"/>
<rect x="2209.2" y="2212.0" width="57.6" height="194.2" fill="url(#h14)" stroke="#4a4a4a" stroke-width="2.2"/>
<text transform="translate(2242.0,2212.6) scale(1.0,1.04)" font-size="52" text-anchor="middle" font-weight="bold">*</text>
<line x1="1457.6" y1="1780.7" x2="2399.0" y2="1780.7" stroke="#424242" stroke-width="2.8"/>
<line x1="1457.6" y1="2406.2" x2="2399.0" y2="2406.2" stroke="#424242" stroke-width="2.8"/>
<line x1="1457.6" y1="1780.7" x2="1457.6" y2="2406.2" stroke="#424242" stroke-width="2.8"/>
<line x1="2399.0" y1="1780.7" x2="2399.0" y2="2406.2" stroke="#424242" stroke-width="2.8"/>
<line x1="1447.6" y1="2406.2" x2="1457.6" y2="2406.2" stroke="#424242" stroke-width="2.8"/>
<text transform="translate(1425.0,2420.1) scale(1.0,1.06)" font-size="42.6" text-anchor="end">0</text>
<line x1="1447.6" y1="2281.1" x2="1457.6" y2="2281.1" stroke="#424242" stroke-width="2.8"/>
<text transform="translate(1425.0,2295.0) scale(1.0,1.06)" font-size="42.6" text-anchor="end">50</text>
<line x1="1447.6" y1="2156.0" x2="1457.6" y2="2156.0" stroke="#424242" stroke-width="2.8"/>
<text transform="translate(1425.0,2169.9) scale(1.0,1.06)" font-size="42.6" text-anchor="end">100</text>
<line x1="1447.6" y1="2030.9" x2="1457.6" y2="2030.9" stroke="#424242" stroke-width="2.8"/>
<text transform="translate(1425.0,2044.8) scale(1.0,1.06)" font-size="42.6" text-anchor="end">150</text>
<line x1="1447.6" y1="1905.8" x2="1457.6" y2="1905.8" stroke="#424242" stroke-width="2.8"/>
<text transform="translate(1425.0,1919.7) scale(1.0,1.06)" font-size="42.6" text-anchor="end">200</text>
<line x1="1447.6" y1="1780.7" x2="1457.6" y2="1780.7" stroke="#424242" stroke-width="2.8"/>
<text transform="translate(1425.0,1794.6) scale(1.0,1.06)" font-size="42.6" text-anchor="end">250</text>
<line x1="1645.2" y1="2406.2" x2="1645.2" y2="2416.2" stroke="#424242" stroke-width="2.8"/>
<text transform="translate(1645.0,2475.5) scale(1.0,1.06)" font-size="42.6" text-anchor="middle">0</text>
<line x1="1834.0" y1="2406.2" x2="1834.0" y2="2416.2" stroke="#424242" stroke-width="2.8"/>
<text transform="translate(1832.0,2475.5) scale(1.0,1.06)" font-size="42.6" text-anchor="middle">0.1</text>
<line x1="2022.0" y1="2406.2" x2="2022.0" y2="2416.2" stroke="#424242" stroke-width="2.8"/>
<text transform="translate(2021.0,2475.5) scale(1.0,1.06)" font-size="42.6" text-anchor="middle">0.5</text>
<line x1="2209.2" y1="2406.2" x2="2209.2" y2="2416.2" stroke="#424242" stroke-width="2.8"/>
<text transform="translate(2209.0,2475.5) scale(1.0,1.06)" font-size="42.6" text-anchor="middle">1</text>
<text transform="translate(1643.0,2544.0) scale(1.0,1.04)" font-size="52.5" text-anchor="start">NSA Concentration (µM)</text>
<text transform="translate(1306.9,2090.7) rotate(-90) scale(1,1.04)" x="0" y="0" font-size="52.1" text-anchor="middle">RANKL Secreted (pg/ml)</text>
<text transform="translate(2339.3,1852.5) scale(1.0,1.03)" font-size="70" text-anchor="start" font-weight="bold">F</text>
<rect x="1983" y="1895" width="372.5999999999999" height="145.79999999999995" fill="#fff" stroke="#444" stroke-width="2"/>
<rect x="2015" y="1940.5" width="80" height="19.0" fill="#000"/>
<rect x="2015.0" y="1980.0" width="80.0" height="19.0" fill="#fff"/>
<rect x="2015.0" y="1980.0" width="80.0" height="19.0" fill="url(#h15)" stroke="#4a4a4a" stroke-width="2.2"/>
<text transform="translate(2112.5,1962.0) scale(1.0,1.06)" font-size="35.3" text-anchor="start">0 Cdt</text>
<text transform="translate(2112.5,2002.0) scale(1.0,1.06)" font-size="35.3" text-anchor="start">100 pg/ml Cdt</text></svg>
</body></html>
